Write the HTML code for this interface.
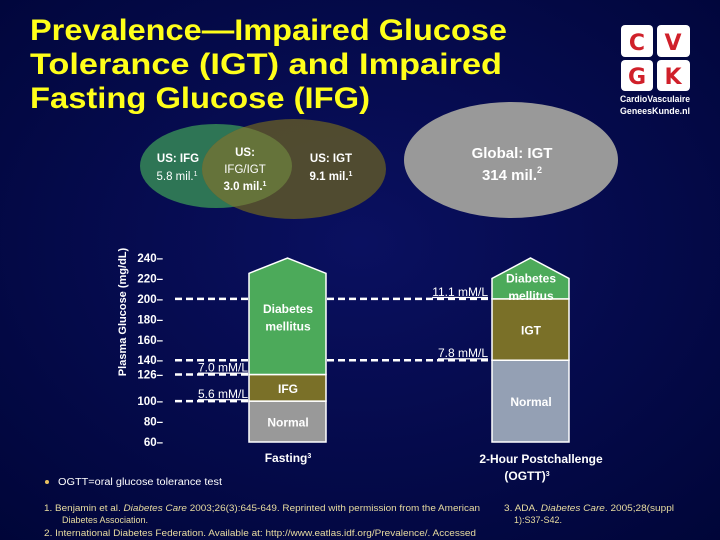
<!DOCTYPE html>
<html><head><meta charset="utf-8">
<style>
html,body{margin:0;padding:0;}
body{width:720px;height:540px;overflow:hidden;background:#000640;font-family:"DejaVu Sans","Liberation Sans",sans-serif;}
svg{display:block}
</style></head>
<body>
<svg id="chart" width="720" height="540" viewBox="0 0 720 540" xmlns="http://www.w3.org/2000/svg">
  <defs>
    <radialGradient id="bg" cx="0.5" cy="0.45" r="0.75">
      <stop offset="0" stop-color="#0a1060"/>
      <stop offset="1" stop-color="#000538"/>
    </radialGradient>
  </defs>
  <rect width="720" height="540" fill="url(#bg)"/>
  <g font-family="Liberation Sans, sans-serif" font-weight="bold" font-size="30" fill="#ffff1a">
    <text x="30" y="40" textLength="477" lengthAdjust="spacingAndGlyphs">Prevalence—Impaired Glucose</text>
    <text x="30" y="74" textLength="472" lengthAdjust="spacingAndGlyphs">Tolerance (IGT) and Impaired</text>
    <text x="30" y="108" textLength="340" lengthAdjust="spacingAndGlyphs">Fasting Glucose (IFG)</text>
  </g>
  <g>
    <rect x="621" y="25" width="32" height="32" rx="4" fill="#fff"/>
    <rect x="657" y="25" width="33" height="32" rx="4" fill="#fff"/>
    <rect x="621" y="60" width="32" height="31" rx="4" fill="#fff"/>
    <rect x="657" y="60" width="33" height="31" rx="4" fill="#fff"/>
    <g font-family="DejaVu Sans, sans-serif" font-weight="bold" font-size="22" fill="#d0202a" text-anchor="middle">
      <text x="637" y="50">C</text><text x="673" y="50">V</text>
      <text x="637" y="84">G</text><text x="673" y="84">K</text>
    </g>
    <g font-family="Liberation Sans, sans-serif" font-weight="bold" font-size="9.5" fill="#fff">
      <text x="620" y="102" textLength="70" lengthAdjust="spacingAndGlyphs">CardioVasculaire</text>
      <text x="620" y="114" textLength="70" lengthAdjust="spacingAndGlyphs">GeneesKunde.nl</text>
    </g>
  </g>
  <g>
    <ellipse cx="216" cy="166" rx="76" ry="42" fill="#2e7555"/>
    <ellipse cx="294" cy="169" rx="92" ry="50" fill="#57502c" fill-opacity="0.92"/>
    <clipPath id="ovl"><ellipse cx="216" cy="166" rx="76" ry="42"/></clipPath>
    <ellipse cx="294" cy="169" rx="92" ry="50" fill="#65733a" clip-path="url(#ovl)"/>
    <g font-family="Liberation Sans, sans-serif" font-weight="bold" font-size="11.5" fill="#fff" text-anchor="middle">
      <text x="178" y="162">US: IFG</text>
      <text x="177" y="180" font-weight="normal">5.8 mil.<tspan font-size="7" dy="-4">1</tspan></text>
      <text x="245" y="156">US:</text>
      <text x="245" y="173" font-weight="normal">IFG/IGT</text>
      <text x="245" y="190">3.0 mil.<tspan font-size="7" dy="-4">1</tspan></text>
      <text x="331" y="162">US: IGT</text>
      <text x="331" y="180">9.1 mil.<tspan font-size="7" dy="-4">1</tspan></text>
    </g>
    <ellipse cx="511" cy="160" rx="107" ry="58" fill="#999999"/>
    <g font-family="Liberation Sans, sans-serif" font-weight="bold" font-size="15" fill="#fff" text-anchor="middle">
      <text x="512" y="158">Global: IGT</text>
      <text x="512" y="180">314 mil.<tspan font-size="9" dy="-7">2</tspan></text>
    </g>
  </g>
  <g id="plot"></g>
  <g font-family="Liberation Sans, sans-serif" font-size="9" fill="#e8dca0">
    <circle cx="47" cy="482" r="2" fill="#e8c060"/>
    <text x="58" y="485" font-size="10" fill="#fff" textLength="164" lengthAdjust="spacingAndGlyphs">OGTT=oral glucose tolerance test</text>
    <text x="44" y="511" textLength="436" lengthAdjust="spacingAndGlyphs">1. Benjamin et al. <tspan font-style="italic">Diabetes Care</tspan> 2003;26(3):645-649. Reprinted with permission from the American</text>
    <text x="62" y="523">Diabetes Association.</text>
    <text x="44" y="536" textLength="432" lengthAdjust="spacingAndGlyphs">2. International Diabetes Federation. Available at: http://www.eatlas.idf.org/Prevalence/. Accessed</text>
    <text x="504" y="511" textLength="170" lengthAdjust="spacingAndGlyphs">3. ADA. <tspan font-style="italic">Diabetes Care</tspan>. 2005;28(suppl</text>
    <text x="514" y="523">1):S37-S42.</text>
  </g>
</svg>
<script>
const tickLabels = [240,220,200,180,160,140,126,100,80,60];
const fastingCategories = ["Normal","IFG","Diabetes mellitus"];
const fastingBounds = [60,100,126,225,240];
const ogttCategories = ["Normal","IGT","Diabetes mellitus"];
const ogttBounds = [60,140,200,220,240];
const thresholds = [200,140,126,100];
const thresholdLabels = ["11.1 mM/L","7.8 mM/L","7.0 mM/L","5.6 mM/L"];

const NS = "http://www.w3.org/2000/svg";
const plot = document.getElementById('plot');
const y = v => 442 - (v - 60) * (184/180);
function mk(tag, attrs, parent){
  const e = document.createElementNS(NS, tag);
  for (const k in attrs) e.setAttribute(k, attrs[k]);
  (parent||plot).appendChild(e);
  return e;
}
const yt = mk('text',{x:0,y:0,transform:'translate(126,312) rotate(-90)','text-anchor':'middle','font-family':'Liberation Sans, sans-serif','font-weight':'bold','font-size':'11',fill:'#fff'});


yt.textContent = 'Plasma Glucose (mg/dL)';
tickLabels.forEach(v=>{
  const t = mk('text',{x:163,y:y(v)+4,'text-anchor':'end','font-family':'Liberation Sans, sans-serif','font-size':'11.5','font-weight':'bold',fill:'#fff'});
  
  
  t.textContent = v + '–';
});
thresholds.forEach((v,i)=>{
  const long = i < 2;
  const l1 = mk('line',{x1:175,x2:249,y1:y(v),y2:y(v),stroke:'#fff','stroke-width':2.5,'stroke-dasharray':'7,4'});
  
  
  if(long){
    const l2 = mk('line',{x1:327,x2:490,y1:y(v),y2:y(v),stroke:'#fff','stroke-width':2.5,'stroke-dasharray':'7,4'});
    
    
  }
  const lx = long ? 488 : 248;
  const t = mk('text',{x:lx,y:y(v)-3,'text-anchor':'end','font-family':'Liberation Sans, sans-serif','font-size':'12',fill:'#fff','text-decoration':'underline'});
  
  
  t.textContent = thresholdLabels[i];
});
function drawBar(x0,x1,cats,bounds,colors,name){
  const g = mk('g',{});
  
  
  for(let i=0;i<cats.length;i++){
    const lo=bounds[i], hi=bounds[i+1];
    let el;
    if(i===cats.length-1){
      const apex=bounds[i+2];
      const xm=(x0+x1)/2;
      el = mk('path',{d:`M${x0},${y(lo)} L${x0},${y(hi)} L${xm},${y(apex)} L${x1},${y(hi)} L${x1},${y(lo)} Z`,fill:colors[i],stroke:'#fff','stroke-width':1.5},g);
    } else {
      el = mk('rect',{x:x0,y:y(hi),width:x1-x0,height:y(lo)-y(hi),fill:colors[i],stroke:'#fff','stroke-width':1.5},g);
    }
    
    
  }
  return g;
}
drawBar(249,326,fastingCategories,fastingBounds,['#999999','#7a7028','#4caa5a'],'fasting-bar');
drawBar(492,569,ogttCategories,ogttBounds,['#94a0b4','#7a7028','#4caa5a'],'ogtt-bar');
function label(x,yy,txt,size,name){
  const t = mk('text',{x:x,y:yy,'text-anchor':'middle','font-family':'Liberation Sans, sans-serif','font-weight':'bold','font-size':size||12,fill:'#fff'});
  
  
  t.textContent = txt;
  return t;
}
label(288,(y(60)+y(100))/2+5,'Normal',12,'fasting-normal-label');
label(288,(y(100)+y(126))/2+5,'IFG',12,'fasting-ifg-label');
label(288,y(190)+4,'Diabetes',12,'fasting-dm-label');
label(288,y(173)+4,'mellitus',12,'fasting-dm-label');
label(531,(y(60)+y(140))/2+5,'Normal',12,'ogtt-normal-label');
label(531,(y(140)+y(200))/2+5,'IGT',12,'ogtt-igt-label');
label(531,y(216),'Diabetes',12,'ogtt-dm-label');
label(531,y(199),'mellitus',12,'ogtt-dm-label');
const fx = label(288,462,'Fasting',12,'fasting-category-label');
const s1 = document.createElementNS(NS,'tspan'); s1.setAttribute('font-size','7'); s1.setAttribute('dy','-4'); s1.textContent='3'; fx.appendChild(s1);
label(541,463,'2-Hour Postchallenge',12,'ogtt-category-label');
const ox = label(527,480,'(OGTT)',12,'ogtt-category-label');
const s2 = document.createElementNS(NS,'tspan'); s2.setAttribute('font-size','7'); s2.setAttribute('dy','-4'); s2.textContent='3'; ox.appendChild(s2);
</script>
</body></html>
